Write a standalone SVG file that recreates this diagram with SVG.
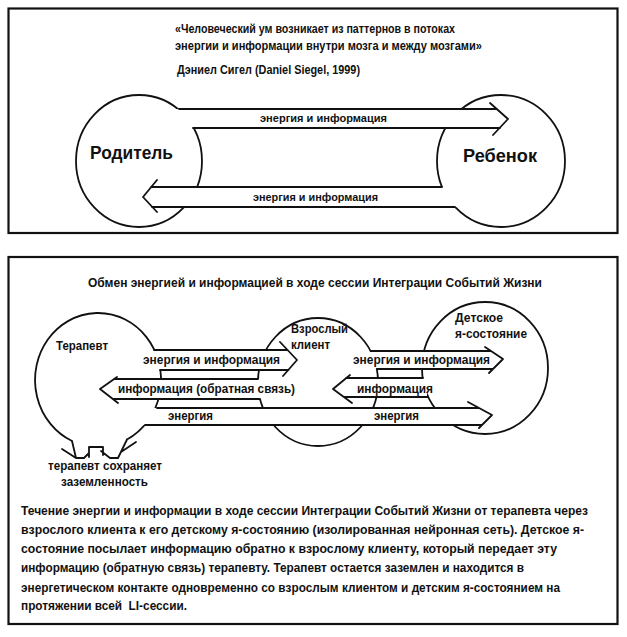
<svg xmlns="http://www.w3.org/2000/svg" width="627" height="637" viewBox="0 0 627 637">
<style>
.t{font-family:"Liberation Sans",Arial,sans-serif;font-weight:bold;fill:#111}
.q{font-size:12px}
.p{font-size:12.5px}
.big{font-size:19px}
.m{font-size:12.5px}
.s{font-size:11.5px}
.ln{fill:none;stroke:#111;stroke-width:1.8;stroke-linecap:round;stroke-linejoin:round}
.node{fill:#fff;stroke:#111;stroke-width:1.8}
.band{fill:#fff;stroke:none}
.frame{fill:none;stroke:#111;stroke-width:2.2}
</style>
<rect width="627" height="637" fill="#fff"/>
<g id="frames">
<rect class="frame" x="8.5" y="8.5" width="609" height="224.5"/>
<rect class="frame" x="8.5" y="257" width="609" height="367"/>
</g>
<g id="quote">
<text class="t q" x="175" y="33" textLength="280" lengthAdjust="spacingAndGlyphs">«Человеческий ум возникает из паттернов в потоках</text>
<text class="t q" x="175" y="50" textLength="307" lengthAdjust="spacingAndGlyphs">энергии и информации внутри мозга и между мозгами»</text>
<text class="t q" x="177" y="74" textLength="183" lengthAdjust="spacingAndGlyphs">Дэниел Сигел (Daniel Siegel, 1999)</text>
</g>
<g id="parent">
<ellipse class="node" cx="139" cy="161" rx="63" ry="66"/>
<text class="t big" x="90" y="159" textLength="83" lengthAdjust="spacingAndGlyphs">Родитель</text>
</g>
<g id="child">
<ellipse class="node" cx="501" cy="161" rx="64" ry="66"/>
<text class="t big" x="463" y="162" textLength="74" lengthAdjust="spacingAndGlyphs">Ребенок</text>
</g>
<g id="title2">
<text class="t m" x="88" y="287" textLength="454" lengthAdjust="spacingAndGlyphs">Обмен энергией и информацией в ходе сессии Интеграции Событий Жизни</text>
</g>
<g id="therapist">
<path class="node" d="M127,439.5 A63,67 0 1 0 72,441"/>
<path class="ln" d="M62,449 L76,458 L84,458 L89,453 M72,441 L76,458 M89,457 L89,447 L103,447 L103,455 M101,451 L110,458 L118,458 L127,439.5 M121,452 L136,442"/>
<text class="t m" x="56" y="350" textLength="52" lengthAdjust="spacingAndGlyphs">Терапевт</text>
<text class="t m" x="48" y="470" textLength="114" lengthAdjust="spacingAndGlyphs">терапевт сохраняет</text>
<text class="t m" x="61" y="486" textLength="87" lengthAdjust="spacingAndGlyphs">заземленность</text>
</g>
<g id="adult">
<ellipse class="node" cx="318" cy="382" rx="60" ry="64"/>
<text class="t m" x="291" y="333" textLength="57" lengthAdjust="spacingAndGlyphs">Взрослый</text>
<text class="t m" x="291" y="349" textLength="39" lengthAdjust="spacingAndGlyphs">клиент</text>
</g>
<g id="childstate">
<ellipse class="node" cx="485" cy="368" rx="63" ry="66"/>
<text class="t m" x="455" y="322" textLength="48" lengthAdjust="spacingAndGlyphs">Детское</text>
<text class="t m" x="455" y="338" textLength="72" lengthAdjust="spacingAndGlyphs">я-состояние</text>
</g>
<g id="connectors">
<rect class="band" x="170" y="109" width="330" height="19"/>
<rect class="band" x="150" y="187" width="310" height="20"/>
<rect class="band" x="140" y="350" width="147" height="20"/>
<rect class="band" x="110" y="379" width="152" height="20"/>
<rect class="band" x="140" y="408" width="345" height="17"/>
<rect class="band" x="362" y="351" width="128" height="18"/>
<rect class="band" x="340" y="378" width="87" height="19"/>
<path class="ln" d="M179,109 H497 M193,128 H500 M490,103 L508,119 L493,135"/>
<path class="ln" d="M151,187 H442 M152,207 H455 M157,180 L143,197 L157,212"/>
<path class="ln" d="M154,350 H287.5 M160,370 H288.5 M280,342 L297,360 L283,376"/>
<path class="ln" d="M258,379 H114 M260,399 H113 M117,377 L100,389 L118,403"/>
<path class="ln" d="M157,408 H479 M145,425 H482 M468,402 L492,415 L479,428"/>
<path class="ln" d="M370.5,351 H491 M376.7,369 H493 M485,347 L503,359 L489,373"/>
<path class="ln" d="M346,378 H423 M344,397 H428 M350,375 L333,389 L352,403"/>
<text class="t s" x="260" y="122" textLength="127" lengthAdjust="spacingAndGlyphs">энергия и информация</text>
<text class="t s" x="253" y="201" textLength="125" lengthAdjust="spacingAndGlyphs">энергия и информация</text>
<text class="t m" x="143" y="364" textLength="137" lengthAdjust="spacingAndGlyphs">энергия и информация</text>
<text class="t m" x="118" y="393" textLength="177" lengthAdjust="spacingAndGlyphs">информация (обратная связь)</text>
<text class="t m" x="168" y="420" textLength="45" lengthAdjust="spacingAndGlyphs">энергия</text>
<text class="t m" x="374" y="420" textLength="45" lengthAdjust="spacingAndGlyphs">энергия</text>
<text class="t m" x="353" y="364" textLength="137" lengthAdjust="spacingAndGlyphs">энергия и информация</text>
<text class="t m" x="357" y="393" textLength="76" lengthAdjust="spacingAndGlyphs">информация</text>
</g>
<g id="caption">
<text class="t p" x="21" y="515" textLength="567" lengthAdjust="spacingAndGlyphs">Течение энергии и информации в ходе сессии Интеграции Событий Жизни от терапевта через</text>
<text class="t p" x="21" y="534" textLength="563" lengthAdjust="spacingAndGlyphs">взрослого клиента к его детскому я-состоянию (изолированная нейронная сеть). Детское я-</text>
<text class="t p" x="21" y="553" textLength="536" lengthAdjust="spacingAndGlyphs">состояние посылает информацию обратно к взрослому клиенту, который передает эту</text>
<text class="t p" x="21" y="572" textLength="503" lengthAdjust="spacingAndGlyphs">информацию (обратную связь) терапевту. Терапевт остается заземлен и находится в</text>
<text class="t p" x="21" y="592" textLength="539" lengthAdjust="spacingAndGlyphs">энергетическом контакте одновременно со взрослым клиентом и детским я-состоянием на</text>
<text class="t p" x="21" y="610" textLength="166" lengthAdjust="spacingAndGlyphs" xml:space="preserve">протяжении всей  LI-сессии.</text>
</g>
</svg>
